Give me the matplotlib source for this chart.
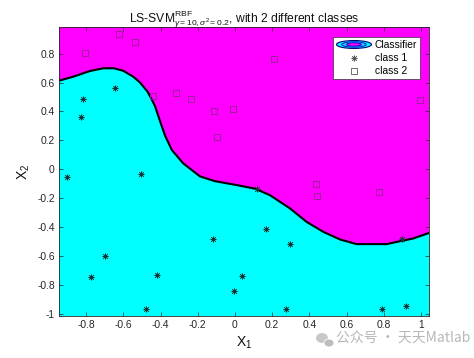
import matplotlib
matplotlib.use("Agg")
import matplotlib.pyplot as plt
from matplotlib.patches import Ellipse, Patch
from matplotlib.lines import Line2D

plt.rcParams['font.family'] = ['Liberation Sans', 'DejaVu Sans']
plt.rcParams['mathtext.fontset'] = 'custom'
plt.rcParams['mathtext.rm'] = 'Liberation Sans'
plt.rcParams['mathtext.it'] = 'Liberation Sans:italic'
plt.rcParams['axes.unicode_minus'] = False

# ---- data ----
class1_x = [-0.819, -0.828, -0.644, -0.902, -0.503, -0.117, -0.697, -0.773, -0.418, -0.480,
            -0.005, 0.039, 0.165, 0.296, 0.274, 0.789, 0.918, 0.898, 0.118]
class1_y = [0.486, 0.361, 0.562, -0.051, -0.033, -0.487, -0.598, -0.746, -0.730, -0.967,
            -0.847, -0.741, -0.411, -0.515, -0.968, -0.968, -0.947, -0.485, -0.138]
class2_x = [-0.806, -0.624, -0.539, -0.319, -0.238, -0.111, -0.011, 0.212, -0.095, 0.996,
            0.435, 0.439, 0.774, -0.438]
class2_y = [0.805, 0.939, 0.881, 0.530, 0.488, 0.403, 0.417, 0.761, 0.223, 0.477,
            -0.101, -0.184, -0.157, 0.507]
boundary_x = [-0.946, -0.869, -0.780, -0.708, -0.651, -0.601, -0.547, -0.511, -0.470, -0.446,
              -0.430, -0.403, -0.376, -0.339, -0.278, -0.188, -0.108, 0.009, 0.108, 0.188,
              0.296, 0.385, 0.475, 0.565, 0.654, 0.815, 0.887, 0.958, 1.045]
boundary_y = [0.613, 0.641, 0.680, 0.699, 0.699, 0.682, 0.641, 0.601, 0.537, 0.479,
              0.437, 0.333, 0.233, 0.132, 0.040, -0.050, -0.083, -0.110, -0.135, -0.180,
              -0.272, -0.365, -0.434, -0.487, -0.519, -0.519, -0.499, -0.480, -0.441]
xticks = [-0.8, -0.6, -0.4, -0.2, 0, 0.2, 0.4, 0.6, 0.8, 1]
xticklabels = ['-0.8', '-0.6', '-0.4', '-0.2', '0', '0.2', '0.4', '0.6', '0.8', '1']
yticks = [-1, -0.8, -0.6, -0.4, -0.2, 0, 0.2, 0.4, 0.6, 0.8]
yticklabels = ['-1', '-0.8', '-0.6', '-0.4', '-0.2', '0', '0.2', '0.4', '0.6', '0.8']
title_text = r'LS-SVM$^{\mathrm{RBF}}_{\gamma\mathrm{=10,}\sigma^{\mathrm{2}}\mathrm{=0.2}}$, with 2 different classes'
legend_labels = ['Classifier', 'class 1', 'class 2']

CYAN = '#00ffff'
MAGENTA = '#ff00ff'

fig = plt.figure(figsize=(4.74, 3.58), dpi=100)
ax = fig.add_axes([59/474, 1 - 316/358, 370/474, 289/358])
ax.set_xlim(-0.946, 1.043)
ax.set_ylim(-1.017, 0.985)
ax.set_facecolor(MAGENTA)

ax.fill_between(boundary_x, -2, boundary_y, color=CYAN, lw=0, zorder=1)
ax.plot(boundary_x, boundary_y, color='black', lw=1.5, zorder=2)

star = (8, 2, 0)
ax.plot(class1_x, class1_y, ls='none', marker=star, ms=4.2, mec='#153535', mew=0.5, zorder=3)
ax.plot(class2_x, class2_y, ls='none', marker='s', ms=4.5, mfc='none', mec='#8a268a', mew=0.6, zorder=3)


class ContourIconHandler:
    def legend_artist(self, legend, orig_handle, fontsize, handlebox):
        x0, y0 = -handlebox.xdescent, -handlebox.ydescent
        w, h = handlebox.width, handlebox.height
        cx, cy = x0 + w / 2, y0 + h / 2
        ells = [Ellipse((cx, cy), w, h * 1.1, fc=CYAN, ec='#000080', lw=0.8),
                Ellipse((cx, cy), w * 0.7, h * 0.75, fc='#30c0ff', ec='#0000c0', lw=0.6),
                Ellipse((cx, cy), w * 0.42, h * 0.45, fc=MAGENTA, ec='#0000c0', lw=0.6)]
        for e in ells:
            e.set_transform(handlebox.get_transform())
            handlebox.add_artist(e)
        return ells[0]


h_cls = Patch(fc=CYAN)
h1 = Line2D([], [], ls='none', marker=star, ms=4.2, mec='#555555', mew=0.5)
h2 = Line2D([], [], ls='none', marker='s', ms=4.5, mfc='none', mec='#555555', mew=0.6)
leg = ax.legend([h_cls, h1, h2], legend_labels, loc='upper right',
                bbox_to_anchor=((420 - 59) / 370, (316 - 37) / 289), borderaxespad=0,
                fontsize=7.4, handlelength=3.4, handletextpad=0.3, labelspacing=0.3,
                borderpad=0.3, fancybox=False, framealpha=1, edgecolor='#333333',
                handler_map={Patch: ContourIconHandler()})
leg.get_frame().set_linewidth(0.5)

ax.set_xticks(xticks)
ax.set_xticklabels(xticklabels)
ax.set_yticks(yticks)
ax.set_yticklabels(yticklabels)
ax.tick_params(direction='in', top=True, right=True, length=3, width=0.5,
               colors='#262626', labelsize=7.4, pad=3)
for s in ax.spines.values():
    s.set_linewidth(0.6)
    s.set_color('#262626')

ax.set_title(title_text, fontsize=8.7, pad=3, color='#111111')
ax.set_xlabel(r'X$_{\mathrm{1}}$', fontsize=10, labelpad=3, color='#111111')
ax.set_ylabel(r'X$_{\mathrm{2}}$', fontsize=10, labelpad=4, color='#111111')

# watermark
fig.add_artist(Ellipse((322/474, 1 - 338/358), 12/474, 10/358, transform=fig.transFigure,
                       fc='#c8c8c8', ec='none'))
fig.add_artist(Ellipse((329/474, 1 - 343/358), 10/474, 8/358, transform=fig.transFigure,
                       fc='#bdbdbd', ec='white', lw=0.6))
fig.text(336/474, 1 - 339/358, '公众号 · 天天Matlab', fontsize=10, color='#b8b8b8',
         family=['Noto Sans CJK SC', 'DejaVu Sans'], va='center', ha='left')

fig.savefig('out.png', dpi=100)
